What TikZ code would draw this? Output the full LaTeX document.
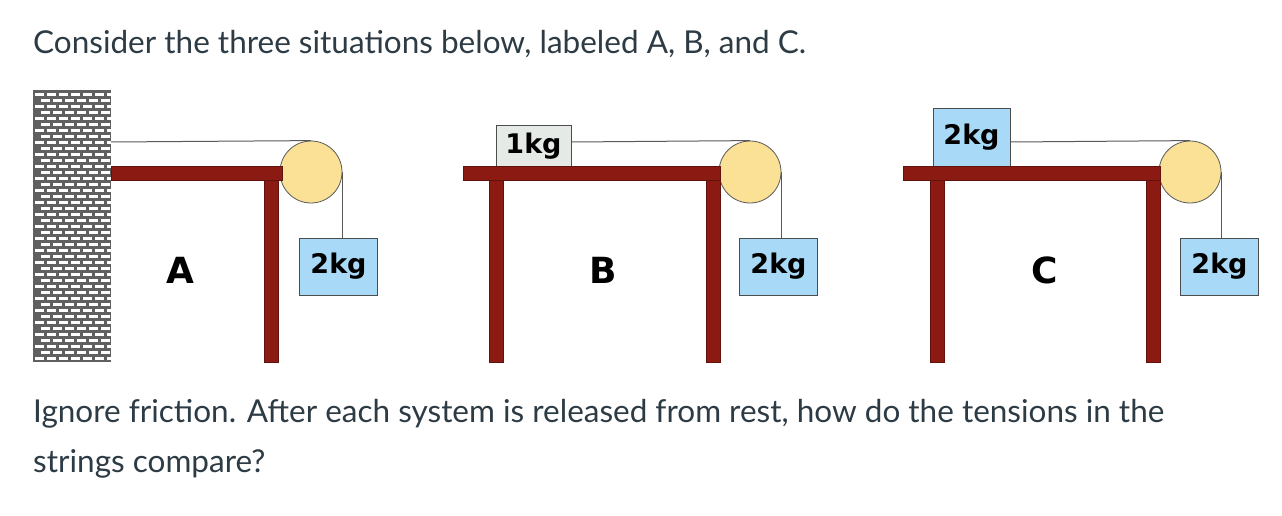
\documentclass[tikz,border=0pt]{standalone}
\usepackage{fontspec}
\setmainfont{Lato}
\newfontfamily\blockfont{DejaVu Sans}
\definecolor{tbl}{HTML}{8B1A12}
\definecolor{pul}{HTML}{FBE196}
\definecolor{blu}{HTML}{A8DAF7}
\definecolor{gry}{HTML}{E6EAE6}
\definecolor{txt}{HTML}{2D3B45}
\begin{document}
\begin{tikzpicture}[x=1pt,y=-1pt,
  wood/.style={fill=tbl,draw=tbl!70!black,line width=0.6pt},
  pulley/.style={circle,fill=pul,draw=gray!70!black,line width=0.8pt,minimum size=62pt,inner sep=0pt},
  mass/.style={draw=gray!60!black,line width=1pt,fill=blu,minimum width=78pt,minimum height=57pt,inner sep=0pt,font=\blockfont\bfseries\fontsize{27}{27}\selectfont},
  rope/.style={draw=gray!70!black,line width=1pt},
  lbl/.style={font=\blockfont\bfseries\fontsize{36}{36}\selectfont},
  para/.style={font=\fontsize{31.5}{31.5}\selectfont,text=txt,anchor=base west,inner sep=0pt}]
\useasboundingbox (0,0) rectangle (1282,516);
% text
\node[para] (t1) at (33,54) {Consider the three situations below, labeled A, B, and C.};
\node[para] (t2) at (33,422) {Ignore friction. After each system is released from rest, how do the tensions in the};
\node[para] (t3) at (33,472) {strings compare?};
% wall
\fill[gray!75!black] (33,90) rectangle (111,362);
\foreach \r in {0,...,44}{
  \pgfmathsetmacro{\yy}{93+\r*6}
  \pgfmathsetmacro{\off}{mod(\r,2)*6}
  \foreach \c in {0,...,6}{
    \fill[white] ({35+\off+\c*12},\yy) rectangle ({44+\off+\c*12},{\yy+3});
  }
}
% A
\node[pulley] (pA) at (311,172) {};
\draw[rope] (111,142) -- (pA.north);
\filldraw[wood] (111,166) rectangle (282,180);
\filldraw[wood] (264,180) rectangle (278,362);
\node[mass] (mA) at (338.5,266.5) {2kg};
\draw[rope] (pA.east) -- (pA.east |- mA.north);
\node[lbl] (lA) at (180,270) {A};
% B
\node[pulley] (pB) at (750,172) {};
\node[mass,fill=gry,minimum width=75pt,minimum height=40pt] (sB) at (533.5,146) {1kg};
\draw[rope] (sB.east |- 0,142) -- (pB.north);
\filldraw[wood] (463,166) rectangle (720,180);
\filldraw[wood] (489,180) rectangle (503,362);
\filldraw[wood] (706,180) rectangle (720,362);
\node[mass] (mB) at (778.5,266.5) {2kg};
\draw[rope] (pB.east) -- (pB.east |- mB.north);
\node[lbl] (lB) at (603,270) {B};
% C
\node[pulley] (pC) at (1190,172) {};
\node[mass,minimum width=77pt,minimum height=57pt] (sC) at (971.5,137.5) {2kg};
\draw[rope] (sC.east |- 0,142) -- (pC.north);
\filldraw[wood] (903,166) rectangle (1160,180);
\filldraw[wood] (930,180) rectangle (944,362);
\filldraw[wood] (1146,180) rectangle (1160,362);
\node[mass] (mC) at (1219.5,266.5) {2kg};
\draw[rope] (pC.east) -- (pC.east |- mC.north);
\node[lbl] (lC) at (1045,270) {C};
\end{tikzpicture}
\end{document}
